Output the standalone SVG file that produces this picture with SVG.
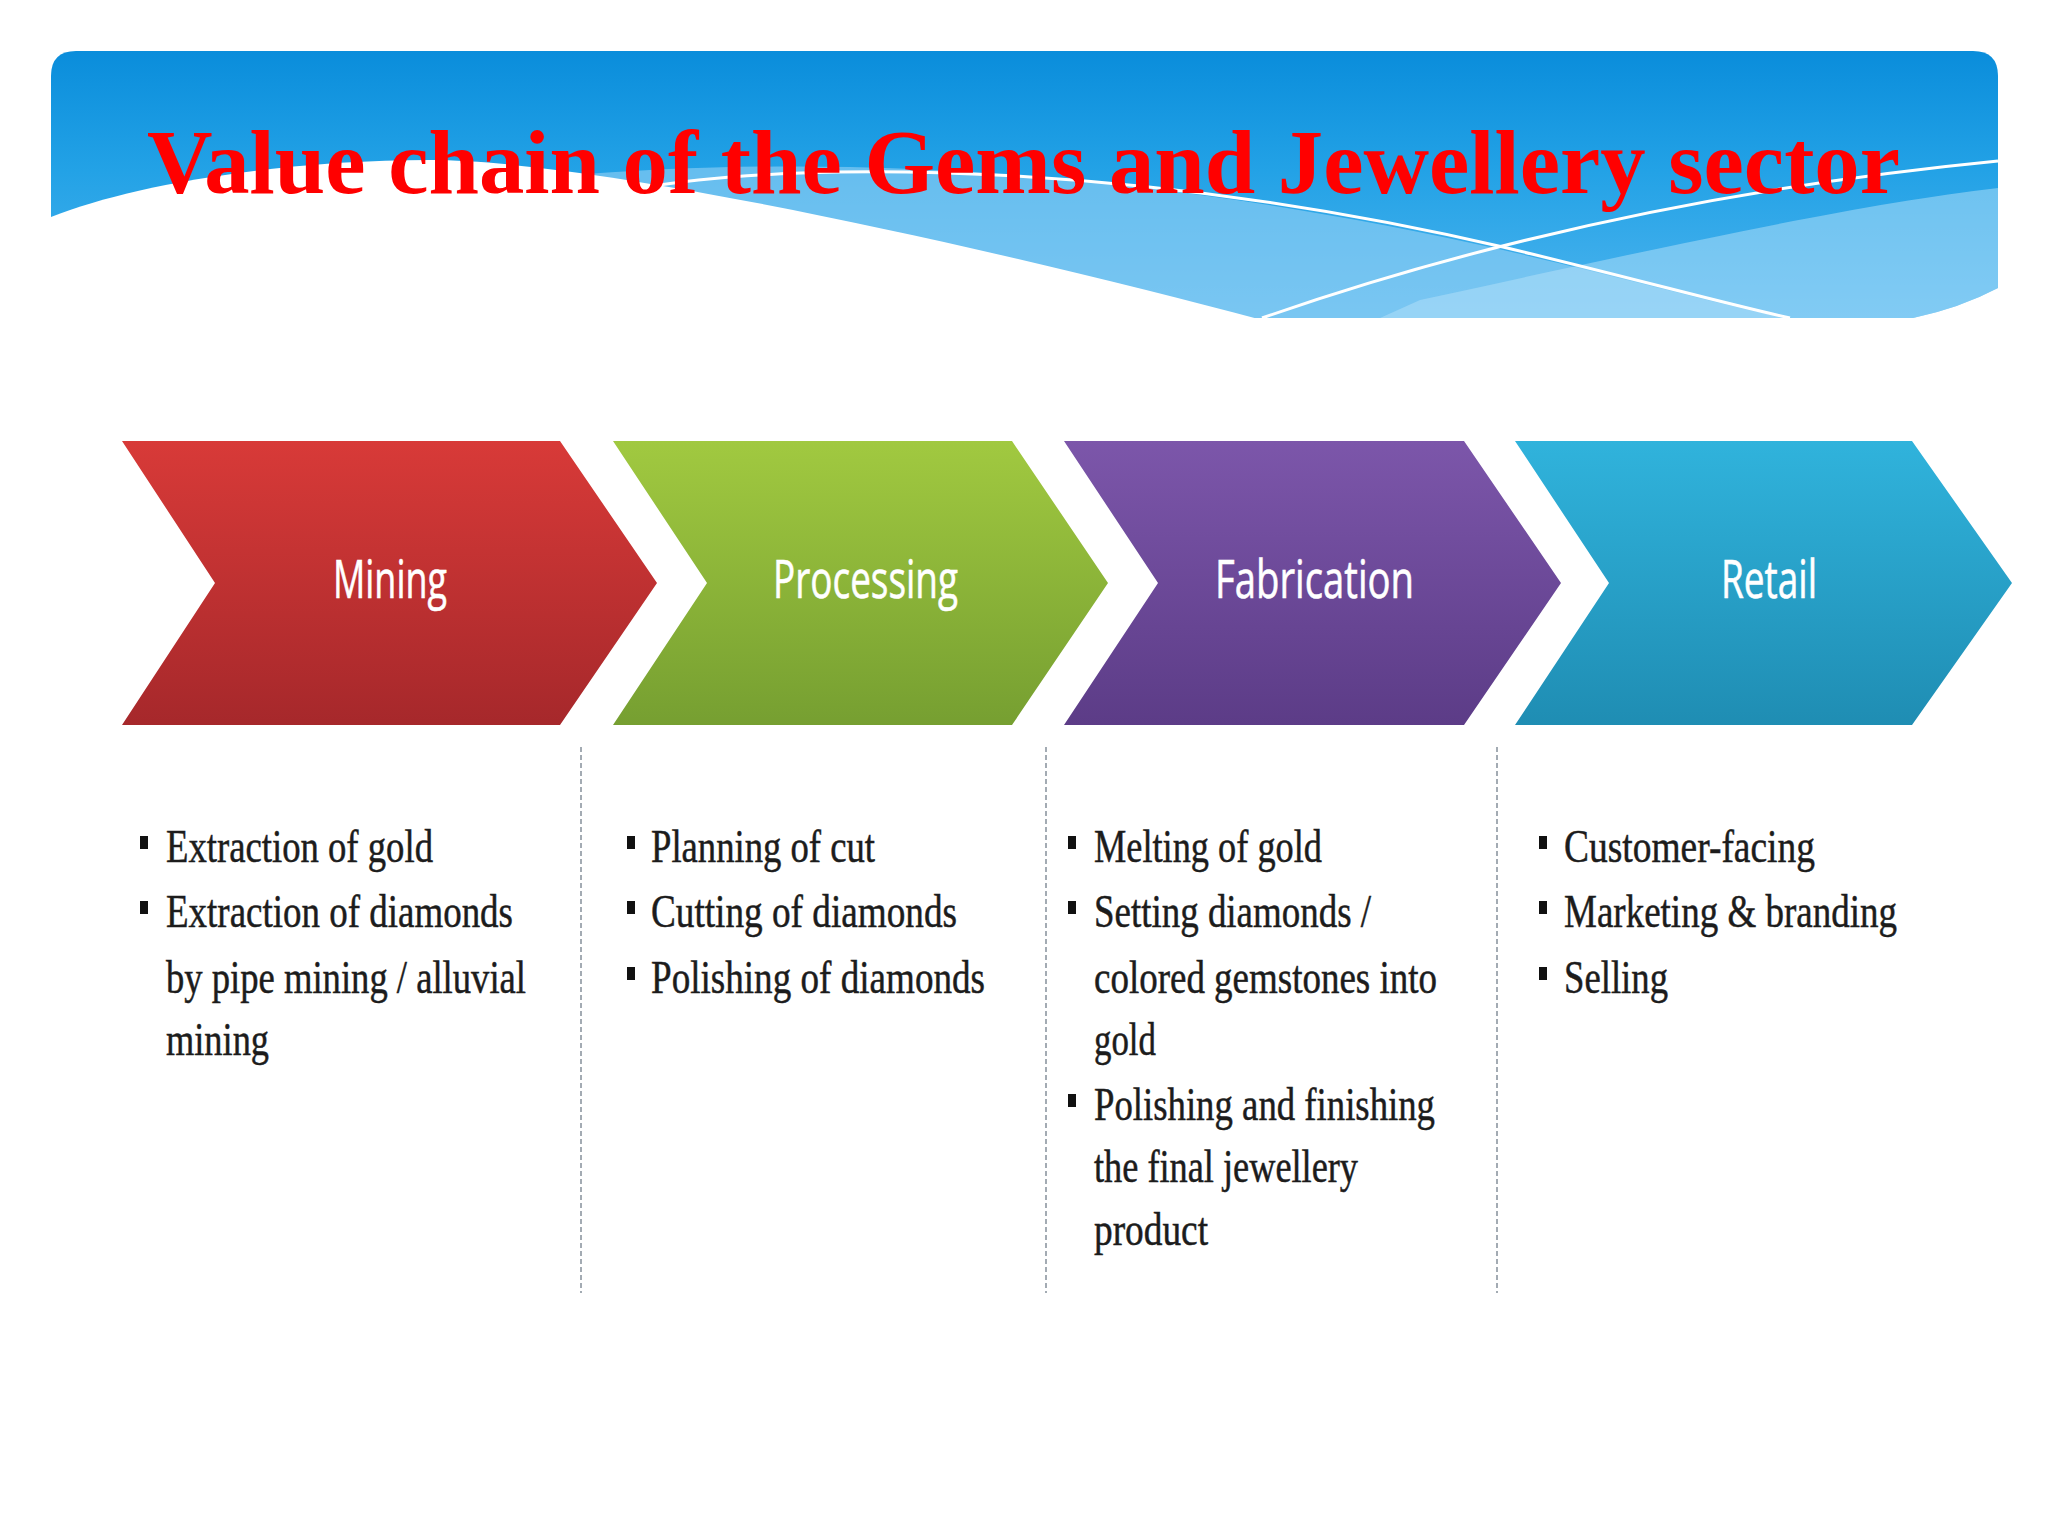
<svg xmlns="http://www.w3.org/2000/svg" width="2048" height="1536" viewBox="0 0 2048 1536">
  <defs>
    <linearGradient id="hdr" x1="0" y1="0" x2="0" y2="1">
      <stop offset="0" stop-color="#0a8ddb"/>
      <stop offset="0.45" stop-color="#23a2e6"/>
      <stop offset="1" stop-color="#4db4ee"/>
    </linearGradient>
    <linearGradient id="gRed" x1="0" y1="0" x2="0" y2="1">
      <stop offset="0" stop-color="#d83a38"/>
      <stop offset="1" stop-color="#a6282b"/>
    </linearGradient>
    <linearGradient id="gGreen" x1="0" y1="0" x2="0" y2="1">
      <stop offset="0" stop-color="#a1c940"/>
      <stop offset="1" stop-color="#769f31"/>
    </linearGradient>
    <linearGradient id="gPurple" x1="0" y1="0" x2="0" y2="1">
      <stop offset="0" stop-color="#7c56aa"/>
      <stop offset="1" stop-color="#5c3c87"/>
    </linearGradient>
    <linearGradient id="gBlue" x1="0" y1="0" x2="0" y2="1">
      <stop offset="0" stop-color="#30b3dc"/>
      <stop offset="1" stop-color="#1f8db3"/>
    </linearGradient>
    <style>
      .title { font-family: "Liberation Serif", "Times New Roman", serif; font-weight: bold; font-size: 91px; fill: #ff0000; }
      .lbl { font-family: "Open Sans", "Noto Sans", "Liberation Sans", sans-serif; font-size: 53px; fill: #ffffff; stroke: #ffffff; stroke-width: 0.6; }
      .item { font-family: "Liberation Serif", "Times New Roman", serif; font-size: 47px; fill: #1c1c1c; stroke: #1c1c1c; stroke-width: 0.5; }
      .bul { fill: #111111; }
      .sep { stroke: #a3abb3; stroke-width: 2; stroke-dasharray: 5 3; fill: none; }
      .wline { stroke: #ffffff; stroke-width: 3; fill: none; }
    </style>
  </defs>

  <rect width="2048" height="1536" fill="#ffffff"/>

  <g id="header">
    <path d="M76,51 H1973 Q1998,51 1998,76 V288 Q1960,308 1913,318 H51 V76 Q51,51 76,51 Z" fill="url(#hdr)"/>
    <path d="M560,176 C880,150 1180,178 1503,250 C1650,284 1740,310 1790,318 L560,318 Z" fill="#9ed6f6" opacity="0.55"/>
    <path d="M1420,300 C1650,250 1850,205 1998,188 L1998,288 Q1960,308 1913,318 L1380,318 Z" fill="#b5e1f9" opacity="0.5"/>
    <path d="M51,217 C130,185 280,160 430,160 C600,160 1000,250 1262,320 L51,320 Z" fill="#ffffff"/>
    <path class="wline" d="M640,188 C820,158 1150,165 1503,247 C1640,280 1730,305 1790,318"/>
    <path class="wline" d="M1262,318 Q1600,200 1998,161"/>
  </g>

  <g id="title">
    <text class="title" x="147" y="193" textLength="1753" lengthAdjust="spacingAndGlyphs">Value chain of the Gems and Jewellery sector</text>
  </g>

  <g id="node-mining">
    <path d="M122,441 L560,441 L657,583 L560,725 L122,725 L215,583 Z" fill="url(#gRed)"/>
    <text class="lbl" x="333" y="598" textLength="114" lengthAdjust="spacingAndGlyphs">Mining</text>
  </g>
  <g id="node-processing">
    <path d="M613,441 L1012,441 L1108,583 L1012,725 L613,725 L707,583 Z" fill="url(#gGreen)"/>
    <text class="lbl" x="773" y="598" textLength="185" lengthAdjust="spacingAndGlyphs">Processing</text>
  </g>
  <g id="node-fabrication">
    <path d="M1064,441 L1464,441 L1561,583 L1464,725 L1064,725 L1158,583 Z" fill="url(#gPurple)"/>
    <text class="lbl" x="1215" y="598" textLength="199" lengthAdjust="spacingAndGlyphs">Fabrication</text>
  </g>
  <g id="node-retail">
    <path d="M1515,441 L1912,441 L2012,583 L1912,725 L1515,725 L1609,583 Z" fill="url(#gBlue)"/>
    <text class="lbl" x="1721" y="598" textLength="96" lengthAdjust="spacingAndGlyphs">Retail</text>
  </g>

  <g id="connectors">
    <line class="sep" x1="581" y1="747" x2="581" y2="1293"/>
    <line class="sep" x1="1046" y1="747" x2="1046" y2="1293"/>
    <line class="sep" x1="1497" y1="747" x2="1497" y2="1293"/>
  </g>

  <g id="list-mining">
    <rect class="bul" x="140" y="836" width="8" height="13"/>
    <rect class="bul" x="140" y="901" width="8" height="13"/>
    <text class="item" x="166" y="862" textLength="267" lengthAdjust="spacingAndGlyphs">Extraction of gold</text>
    <text class="item" x="166" y="927" textLength="347" lengthAdjust="spacingAndGlyphs">Extraction of diamonds</text>
    <text class="item" x="166" y="993" textLength="360" lengthAdjust="spacingAndGlyphs">by pipe mining / alluvial</text>
    <text class="item" x="166" y="1055" textLength="103" lengthAdjust="spacingAndGlyphs">mining</text>
  </g>
  <g id="list-processing">
    <rect class="bul" x="627" y="836" width="8" height="13"/>
    <rect class="bul" x="627" y="901" width="8" height="13"/>
    <rect class="bul" x="627" y="967" width="8" height="13"/>
    <text class="item" x="651" y="862" textLength="224" lengthAdjust="spacingAndGlyphs">Planning of cut</text>
    <text class="item" x="651" y="927" textLength="306" lengthAdjust="spacingAndGlyphs">Cutting of diamonds</text>
    <text class="item" x="651" y="993" textLength="334" lengthAdjust="spacingAndGlyphs">Polishing of diamonds</text>
  </g>
  <g id="list-fabrication">
    <rect class="bul" x="1068" y="836" width="8" height="13"/>
    <rect class="bul" x="1068" y="901" width="8" height="13"/>
    <rect class="bul" x="1068" y="1094" width="8" height="13"/>
    <text class="item" x="1094" y="862" textLength="228" lengthAdjust="spacingAndGlyphs">Melting of gold</text>
    <text class="item" x="1094" y="927" textLength="277" lengthAdjust="spacingAndGlyphs">Setting diamonds /</text>
    <text class="item" x="1094" y="993" textLength="343" lengthAdjust="spacingAndGlyphs">colored gemstones into</text>
    <text class="item" x="1094" y="1055" textLength="62" lengthAdjust="spacingAndGlyphs">gold</text>
    <text class="item" x="1094" y="1120" textLength="341" lengthAdjust="spacingAndGlyphs">Polishing and finishing</text>
    <text class="item" x="1094" y="1182" textLength="264" lengthAdjust="spacingAndGlyphs">the final jewellery</text>
    <text class="item" x="1094" y="1245" textLength="114" lengthAdjust="spacingAndGlyphs">product</text>
  </g>
  <g id="list-retail">
    <rect class="bul" x="1539" y="836" width="8" height="13"/>
    <rect class="bul" x="1539" y="901" width="8" height="13"/>
    <rect class="bul" x="1539" y="967" width="8" height="13"/>
    <text class="item" x="1564" y="862" textLength="251" lengthAdjust="spacingAndGlyphs">Customer-facing</text>
    <text class="item" x="1564" y="927" textLength="333" lengthAdjust="spacingAndGlyphs">Marketing &amp; branding</text>
    <text class="item" x="1564" y="993" textLength="104" lengthAdjust="spacingAndGlyphs">Selling</text>
  </g>
</svg>
